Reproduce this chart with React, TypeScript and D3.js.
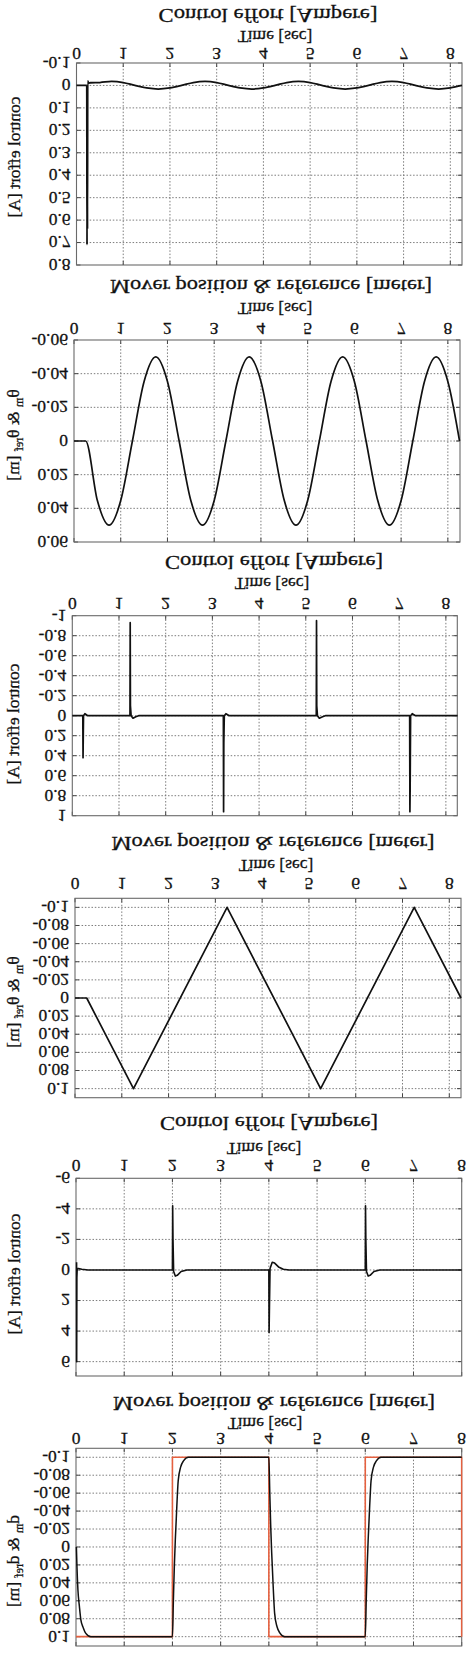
import React from "react";
import * as d3 from "d3";

const W = 474;
const H = 1654;
const FONT = '"Liberation Serif", "Times New Roman", "DejaVu Serif", serif';

// ---------- data ----------
const xTicks8 = [0, 1, 2, 3, 4, 5, 6, 7, 8];

// Panel 1: control effort for sinusoidal reference
const ctrl1Time = [0, 0.22, 0.225, 0.23, 0.235, 0.24, 0.26, 0.3, 0.5, 0.75, 1.0, 1.25, 1.5, 1.75, 2.0, 2.25, 2.5, 2.75, 3.0, 3.25, 3.5, 3.75, 4.0, 4.25, 4.5, 4.75, 5.0, 5.25, 5.5, 5.75, 6.0, 6.25, 6.5, 6.75, 7.0, 7.25, 7.5, 7.75, 8.0, 8.25];
const ctrl1Value = [0, 0, 0.71, 0.0, 0.64, -0.02, -0.01, -0.012, -0.013, -0.018, -0.013, 0, 0.011, 0.016, 0.011, 0, -0.013, -0.018, -0.013, 0, 0.011, 0.016, 0.011, 0, -0.013, -0.018, -0.013, 0, 0.011, 0.016, 0.011, 0, -0.013, -0.018, -0.013, 0, 0.011, 0.016, 0.011, 0];
const ctrl1YTicks = [-0.1, 0, 0.1, 0.2, 0.3, 0.4, 0.5, 0.6, 0.7, 0.8];

// Panel 2: sinusoidal mover position
const sineTime = [0, 0.25, 0.5, 0.75, 1.0, 1.25, 1.5, 1.75, 2.0, 2.25, 2.5, 2.75, 3.0, 3.25, 3.5, 3.75, 4.0, 4.25, 4.5, 4.75, 5.0, 5.25, 5.5, 5.75, 6.0, 6.25, 6.5, 6.75, 7.0, 7.25, 7.5, 7.75, 8.0, 8.25];
const sinePos = [0, 0, 0.0354, 0.05, 0.0354, 0, -0.0354, -0.05, -0.0354, 0, 0.0354, 0.05, 0.0354, 0, -0.0354, -0.05, -0.0354, 0, 0.0354, 0.05, 0.0354, 0, -0.0354, -0.05, -0.0354, 0, 0.0354, 0.05, 0.0354, 0, -0.0354, -0.05, -0.0354, 0];
const sineYTicks = [-0.06, -0.04, -0.02, 0, 0.02, 0.04, 0.06];

// Panel 3: control effort for triangular reference
const ctrl3Time = [0, 0.225, 0.23, 0.235, 0.24, 0.27, 0.33, 1.235, 1.24, 1.245, 1.26, 1.3, 1.36, 1.42, 3.235, 3.24, 3.245, 3.255, 3.29, 3.36, 5.225, 5.23, 5.235, 5.25, 5.29, 5.36, 5.42, 7.225, 7.23, 7.235, 7.245, 7.28, 7.35, 8.25];
const ctrl3Value = [0, 0, 0.42, 0.2, 0, -0.02, 0, 0, -0.93, -0.1, 0, 0.025, 0.01, 0, 0, 0.96, 0.27, 0, -0.02, 0, 0, -0.95, -0.1, 0, 0.025, 0.01, 0, 0, 0.96, 0.75, 0, -0.02, 0, 0];
const ctrl3YTicks = [-1, -0.8, -0.6, -0.4, -0.2, 0, 0.2, 0.4, 0.6, 0.8, 1];

// Panel 4: triangular mover position
const triTime = [0, 0.25, 1.25, 3.25, 5.25, 7.25, 8.25];
const triPos = [0, 0, 0.1, -0.1, 0.1, -0.1, 0];
const posYTicks = [-0.1, -0.08, -0.06, -0.04, -0.02, 0, 0.02, 0.04, 0.06, 0.08, 0.1];

// Panel 5: control effort for square reference
const ctrl5Time = [0.012, 0.014, 0.018, 0.025, 0.05, 0.12, 0.25, 2.0, 2.005, 2.012, 2.025, 2.06, 2.1, 2.18, 2.3, 4.0, 4.005, 4.012, 4.025, 4.07, 4.12, 4.2, 4.3, 4.42, 6.0, 6.005, 6.012, 6.025, 6.06, 6.1, 6.18, 6.3, 8.0];
const ctrl5Value = [-0.5, 6, 0.5, -0.1, -0.1, -0.05, 0, 0, -4.2, -2, 0.1, 0.4, 0.35, 0.1, 0, 0, 4.1, 2.5, -0.1, -0.5, -0.45, -0.2, -0.05, 0, 0, -4.2, -2, 0.1, 0.4, 0.35, 0.1, 0, 0];
const ctrl5YTicks = [-6, -4, -2, 0, 2, 4, 6];

// Panel 6: square mover position & reference
const sqRefTime = [0, 2, 2, 4, 4, 6, 6, 8, 8];
const sqRefPos = [0.1, 0.1, -0.1, -0.1, 0.1, 0.1, -0.1, -0.1, 0.1];
const sqTime = [0.008, 0.02, 0.04, 0.07, 0.1, 0.15, 0.2, 0.31, 0.4, 2.0, 2.02, 2.04, 2.06, 2.09, 2.12, 2.17, 2.23, 2.33, 2.4, 4.0, 4.02, 4.04, 4.06, 4.09, 4.12, 4.17, 4.23, 4.33, 4.4, 6.0, 6.02, 6.04, 6.06, 6.09, 6.12, 6.17, 6.23, 6.33, 6.4, 8.0];
const sqPos = [0, 0.022, 0.048, 0.066, 0.081, 0.09, 0.096, 0.1, 0.1, 0.1, 0.059, 0.021, -0.008, -0.044, -0.074, -0.089, -0.096, -0.1, -0.1, -0.1, -0.059, -0.021, 0.008, 0.044, 0.074, 0.089, 0.096, 0.1, 0.1, 0.1, 0.059, 0.021, -0.008, -0.044, -0.074, -0.089, -0.096, -0.1, -0.1, -0.1];

const titleCtrl = "Control effort [Ampere]";
const titlePos = "Mover position & reference [meter]";
const xLabel = "Time [sec]";

type Series = { t: number[]; v: number[]; color: string; curve: any; width: number };
type PanelCfg = {
  id: string;
  left: number; right: number; top: number; bottom: number;
  xDomain: [number, number]; yDomain: [number, number];
  yTicks: number[];
  tickBase: number; timeBase: number; titleBase: number;
  timeCx: number; titleCx: number; titleW: number;
  title: string;
  ylx: number; yly: number;
  ylabel: "ctrl" | "theta" | "d";
  series: Series[];
};

const BLACK = "#111";
const RED = "#e5603f";

const panels: PanelCfg[] = [
  {
    id: "p1", left: 76.5, right: 462, top: 63, bottom: 265,
    xDomain: [0, 8.25], yDomain: [-0.1, 0.8], yTicks: ctrl1YTicks,
    tickBase: 48, timeBase: 31, titleBase: 8.5, timeCx: 275, titleCx: 268, titleW: 219,
    title: titleCtrl, ylx: 20, yly: 157, ylabel: "ctrl",
    series: [{ t: ctrl1Time, v: ctrl1Value, color: BLACK, curve: d3.curveMonotoneX, width: 1.8 }],
  },
  {
    id: "p2", left: 74, right: 460, top: 340, bottom: 542,
    xDomain: [0, 8.26], yDomain: [-0.06, 0.06], yTicks: sineYTicks,
    tickBase: 323, timeBase: 303, titleBase: 280, timeCx: 275, titleCx: 271, titleW: 322,
    title: titlePos, ylx: 19, yly: 435, ylabel: "theta",
    series: [{ t: sineTime, v: sinePos, color: BLACK, curve: d3.curveMonotoneX, width: 1.7 }],
  },
  {
    id: "p3", left: 72.3, right: 457.3, top: 615.7, bottom: 815.7,
    xDomain: [0, 8.245], yDomain: [-1, 1], yTicks: ctrl3YTicks,
    tickBase: 598, timeBase: 578, titleBase: 556, timeCx: 272, titleCx: 274, titleW: 218,
    title: titleCtrl, ylx: 19, yly: 724, ylabel: "ctrl",
    series: [{ t: ctrl3Time, v: ctrl3Value, color: BLACK, curve: d3.curveLinear, width: 1.7 }],
  },
  {
    id: "p4", left: 75, right: 461, top: 898.3, bottom: 1097.7,
    xDomain: [0, 8.25], yDomain: [-0.11, 0.11], yTicks: posYTicks,
    tickBase: 878, timeBase: 860, titleBase: 837, timeCx: 276, titleCx: 273, titleW: 323,
    title: titlePos, ylx: 19, yly: 1002, ylabel: "theta",
    series: [{ t: triTime, v: triPos, color: BLACK, curve: d3.curveLinear, width: 1.7 }],
  },
  {
    id: "p5", left: 76, right: 461.7, top: 1178.3, bottom: 1376,
    xDomain: [0, 8], yDomain: [-6, 6.94], yTicks: ctrl5YTicks,
    tickBase: 1160, timeBase: 1143, titleBase: 1117, timeCx: 264, titleCx: 269, titleW: 218,
    title: titleCtrl, ylx: 20, yly: 1274, ylabel: "ctrl",
    series: [{ t: ctrl5Time, v: ctrl5Value, color: BLACK, curve: d3.curveLinear, width: 1.6 }],
  },
  {
    id: "p6", left: 76, right: 461.7, top: 1448.3, bottom: 1646,
    xDomain: [0, 8], yDomain: [-0.11, 0.1104], yTicks: posYTicks,
    tickBase: 1433, timeBase: 1418, titleBase: 1397, timeCx: 265, titleCx: 274, titleW: 322,
    title: titlePos, ylx: 19, yly: 1561, ylabel: "d",
    series: [
      { t: sqRefTime, v: sqRefPos, color: RED, curve: d3.curveLinear, width: 1.6 },
      { t: sqTime, v: sqPos, color: BLACK, curve: d3.curveMonotoneX, width: 1.5 },
    ],
  },
];

function fmt(v: number): string {
  const r = Math.round(v * 1000) / 1000;
  return String(r);
}

function YLabel({ kind }: { kind: string }) {
  if (kind === "ctrl") return <>control effort [A]</>;
  const s = kind === "theta" ? "θ" : "d";
  return (
    <>
      {s}
      <tspan dy={4} fontSize={12}>m</tspan>
      <tspan dy={-4}> &amp; {s}</tspan>
      <tspan dy={4} fontSize={12}>ref</tspan>
      <tspan dy={-4}> [m]</tspan>
    </>
  );
}

const TEXT_STROKE = { stroke: "#111", strokeWidth: 0.3 };

function Panel({ p }: { p: PanelCfg }) {
  const x = d3.scaleLinear().domain(p.xDomain).range([p.left, p.right]);
  const y = d3.scaleLinear().domain(p.yDomain).range([H - p.top, H - p.bottom]);
  const yTop = H - p.bottom;
  const yBot = H - p.top;
  const grid = "#6e6e6e";
  return (
    <g>
      <defs>
        <clipPath id={`clip-${p.id}`}>
          <rect x={p.left - 1} y={yTop - 1} width={p.right - p.left + 2} height={yBot - yTop + 2} />
        </clipPath>
      </defs>
      {/* grid */}
      {xTicks8.filter((t) => x(t) > p.left + 1 && x(t) < p.right - 1).map((t) => (
        <line key={`gx${t}`} x1={x(t)} x2={x(t)} y1={yTop} y2={yBot} stroke={grid} strokeWidth={0.9} strokeDasharray="1.5 1.8" />
      ))}
      {p.yTicks.filter((v) => y(v) > yTop + 1 && y(v) < yBot - 1).map((v) => (
        <line key={`gy${v}`} x1={p.left} x2={p.right} y1={y(v)} y2={y(v)} stroke={grid} strokeWidth={0.9} strokeDasharray="1.5 1.8" />
      ))}
      {/* ticks */}
      {xTicks8.map((t) => (
        <g key={`tx${t}`}>
          <line x1={x(t)} x2={x(t)} y1={yBot} y2={yBot - 4} stroke="#444" />
          <line x1={x(t)} x2={x(t)} y1={yTop} y2={yTop + 4} stroke="#444" />
        </g>
      ))}
      {p.yTicks.map((v) => (
        <g key={`ty${v}`}>
          <line x1={p.left} x2={p.left + 4} y1={y(v)} y2={y(v)} stroke="#444" />
          <line x1={p.right} x2={p.right - 4} y1={y(v)} y2={y(v)} stroke="#444" />
        </g>
      ))}
      {/* frame */}
      <rect x={p.left} y={yTop} width={p.right - p.left} height={yBot - yTop} fill="none" stroke="#6a6a6a" strokeWidth={1.1} />
      {/* series */}
      <g clipPath={`url(#clip-${p.id})`}>
        {p.series.map((s, i) => {
          const pts = s.t.map((t, k) => [t, s.v[k]] as [number, number]);
          const line = d3.line<[number, number]>().x((d) => x(d[0])).y((d) => y(d[1])).curve(s.curve);
          return <path key={i} d={line(pts) || ""} fill="none" stroke={s.color} strokeWidth={s.width} strokeLinejoin="round" />;
        })}
      </g>
      {/* x tick labels */}
      {xTicks8.map((t) => (
        <text key={`lx${t}`} x={x(t)} y={H - p.tickBase} textAnchor="middle" fontSize={17.5} {...TEXT_STROKE}>{t}</text>
      ))}
      {/* y tick labels */}
      {p.yTicks.map((v) => (
        <text key={`ly${v}`} x={p.left - 6} y={y(v)} dy="0.35em" textAnchor="end" fontSize={17.5} {...TEXT_STROKE}>{fmt(v)}</text>
      ))}
      <text x={p.timeCx} y={H - p.timeBase} textAnchor="middle" fontSize={17.5} {...TEXT_STROKE}>{xLabel}</text>
      <text x={p.titleCx} y={H - p.titleBase} textAnchor="middle" fontSize={19.5} textLength={p.titleW} lengthAdjust="spacingAndGlyphs" {...TEXT_STROKE}>{p.title}</text>
      <text transform={`translate(${p.ylx},${H - p.yly}) rotate(-90)`} textAnchor="middle" fontSize={17.5} {...TEXT_STROKE}>
        <YLabel kind={p.ylabel} />
      </text>
    </g>
  );
}

export default function App() {
  return (
    <svg
      width={W}
      height={H}
      viewBox={`0 0 ${W} ${H}`}
      style={{ position: "absolute", left: 0, top: 0, background: "#fff" }}
      fontFamily={FONT}
      fill="#111"
    >
      <rect x={0} y={0} width={W} height={H} fill="#fff" />
      <g transform={`translate(0,${H}) scale(1,-1)`}>
        {panels.map((p) => (
          <Panel key={p.id} p={p} />
        ))}
      </g>
    </svg>
  );
}
